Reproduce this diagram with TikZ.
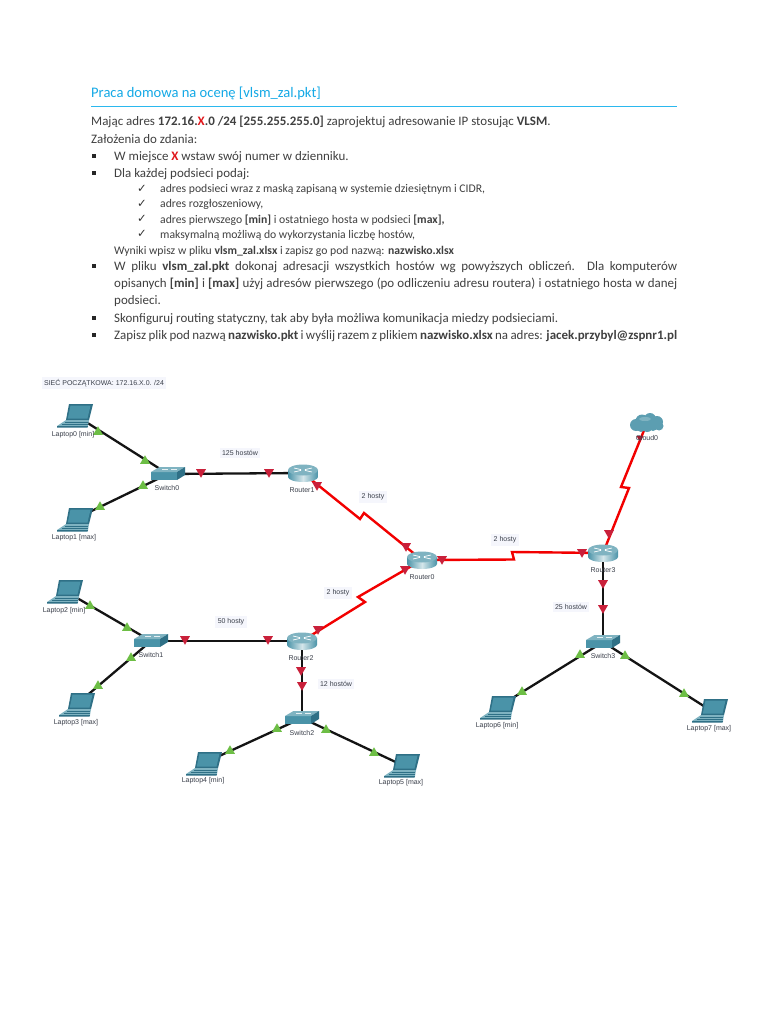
\documentclass[tikz,border=0pt]{standalone}
\usepackage{fontspec}
\setmainfont{Carlito}
\newfontfamily\netfont{Liberation Sans}
\newfontfamily\symfont{DejaVu Sans}
\usetikzlibrary{shapes.geometric}
\definecolor{bodygray}{HTML}{404040}
\definecolor{titleblue}{HTML}{14A9E6}
\definecolor{rulecyan}{HTML}{2BB8EE}
\definecolor{marker}{HTML}{E0161B}
\definecolor{tealdark}{HTML}{2F7086}
\definecolor{tealmid}{HTML}{4A93A8}
\definecolor{teallight}{HTML}{7FB3C1}
\definecolor{tealpale}{HTML}{D4E6EA}
\definecolor{greentri}{HTML}{6DBE45}
\definecolor{redtri}{HTML}{C9203A}
\definecolor{labelbg}{HTML}{F5F6FC}
\definecolor{nettext}{HTML}{3A3F4A}
\newcommand{\bodytxt}{\fontsize{12.95}{17}\selectfont}
\newcommand{\smalltxt}{\fontsize{11.7}{15}\selectfont}
\newcommand{\ckm}{\symfont\fontsize{11.5}{12}\selectfont ✓}
\tikzset{
  line/.style={anchor=base west,inner sep=0pt,text=bodygray,font=\bodytxt},
  subline/.style={anchor=base west,inner sep=0pt,text=bodygray,font=\smalltxt},
  bulletmark/.style={fill=black!85,inner sep=0pt,minimum size=4pt},
  checkmark/.style={inner sep=0pt,text=black!80},
  anchorpt/.style={inner sep=0pt,minimum size=0pt},
  eth/.style={draw=black!92,line width=2.3pt},
  serial/.style={draw=red!95!black,line width=2.4pt,line join=miter},
  gtri/.style={regular polygon,regular polygon sides=3,fill=greentri,inner sep=0pt,minimum size=11.5pt},
  rtri/.style={regular polygon,regular polygon sides=3,shape border rotate=180,fill=redtri,inner sep=0pt,minimum size=11.5pt},
  devlabel/.style={inner sep=0pt,text=nettext,font=\netfont\fontsize{7}{8}\selectfont},
  linklabel/.style={fill=labelbg,inner sep=2.5pt,text=nettext,font=\netfont\fontsize{7}{8}\selectfont},
  laptopicon/.pic={
    \fill[tealdark] (-6,-11) -- (18,-11) -- (14,5) -- (-9,5) -- cycle;
    \fill[tealmid] (-4.5,-9.5) -- (15.5,-9.5) -- (12.5,3.5) -- (-7.2,3.5) -- cycle;
    \fill[teallight] (-9,5) -- (14,5) -- (13,11) -- (-18,11) -- cycle;
    \draw[tealdark,line width=.5pt] (-10,7) -- (13,7) (-13,9) -- (13,9);
    \fill[tealdark] (-18,11) -- (13,11) -- (12.5,12.5) -- (-18,12.5) -- cycle;
  },
  switchicon/.pic={
    \fill[tealmid] (-17,-2) -- (9,-2) -- (9,6) -- (-17,6) -- cycle;
    \fill[teallight] (-8.5,-7) -- (17,-7) -- (9,-2) -- (-17,-2) -- cycle;
    \fill[tealdark] (17,-7) -- (17,1) -- (9,6) -- (9,-2) -- cycle;
    \draw[white!80!teallight,line width=.4pt] (-6,-4.5) -- (0,-4.5) (3,-4.5) -- (9,-4.5);
  },
  routericon/.pic={
    \shade[left color=tealmid,right color=tealmid,middle color=tealpale]
      (-15,-3) -- (-15,4) arc[start angle=180,end angle=360,x radius=15pt,y radius=5pt] -- (15,-3) -- cycle;
    \fill[teallight] (0,-3) ellipse[x radius=15pt,y radius=5.5pt];
    \draw[white,line width=.7pt] (-9,-5) -- (-2,-3.4) (2,-2.6) -- (9,-1) (9,-5) -- (2,-3.4) (-2,-2.6) -- (-9,-1);
  },
  cloudicon/.pic={
    \fill[tealmid!90!white] (-11,2) circle[radius=6pt] (-5,-2) circle[radius=6.5pt] (3,-4) circle[radius=6pt]
      (10,-1) circle[radius=6pt] (12,3) circle[radius=4.5pt] (0,3) circle[radius=6pt] (6,3) circle[radius=5pt] (-6,4) circle[radius=5pt];
    \fill[teallight] (-2,-4) ellipse[x radius=6pt,y radius=2pt];
  },
}
\begin{document}
\begin{tikzpicture}[x=1pt,y=-1pt]
\useasboundingbox[fill=white] (0,0) rectangle (768,1024);

% document text
\node[anchor=base west,inner sep=0pt,text=titleblue,font=\fontsize{14.55}{18}\selectfont] (title) at (91,98) {Praca domowa na ocenę [vlsm\_zal.pkt]};
\coordinate (ruleL) at (91,106.5);
\coordinate (ruleR) at (677,106.5);
\draw[rulecyan,line width=1.2pt] (ruleL) -- (ruleR);

\node[line] (l1) at (91,126) {Mając adres \textbf{172.16.\textcolor{marker}{X}.0 /24 [255.255.255.0]} zaprojektuj adresowanie IP stosując \textbf{VLSM}.};
\node[line] (l2) at (91,143.5) {Założenia do zdania:};
\node[bulletmark] (b1) at (93.5,156) {};
\node[line] (l3) at (114,160.5) {W miejsce \textcolor{marker}{\textbf{X}} wstaw swój numer w dzienniku.};
\node[bulletmark] (b2) at (93.5,173) {};
\node[line] (l4) at (114,177.5) {Dla każdej podsieci podaj:};
\node[checkmark] (c1) at (142,188.5) {\ckm};
\node[subline] (s1) at (160,192.5) {adres podsieci wraz z maską zapisaną w systemie dziesiętnym i CIDR,};
\node[checkmark] (c2) at (142,203.5) {\ckm};
\node[subline] (s2) at (160,208) {adres rozgłoszeniowy,};
\node[checkmark] (c3) at (142,218.5) {\ckm};
\node[subline] (s3) at (160,223) {adres pierwszego \textbf{[min]} i ostatniego hosta w podsieci \textbf{[max],}};
\node[checkmark] (c4) at (142,233.5) {\ckm};
\node[subline] (s4) at (160,238) {maksymalną możliwą do wykorzystania liczbę hostów,};
\node[subline] (s5) at (114,254.5) {Wyniki wpisz w pliku \textbf{vlsm\_zal.xlsx} i zapisz go pod nazwą: \textbf{nazwisko.xlsx}};
\node[bulletmark] (b3) at (93.5,265.5) {};
\node[line] (l5) at (114,270.5) {\makebox[563pt][s]{W pliku \textbf{vlsm\_zal.pkt} dokonaj adresacji wszystkich hostów wg powyższych obliczeń. Dla komputerów}};
\node[line] (l6) at (114,287.5) {\makebox[563pt][s]{opisanych \textbf{[min]} i \textbf{[max]} użyj adresów pierwszego (po odliczeniu adresu routera) i ostatniego hosta w danej}};
\node[line] (l7) at (114,304.5) {podsieci.};
\node[bulletmark] (b4) at (93.5,317.5) {};
\node[line] (l8) at (114,322) {Skonfiguruj routing statyczny, tak aby była możliwa komunikacja miedzy podsieciami.};
\node[bulletmark] (b5) at (93.5,334.5) {};
\node[line] (l9) at (114,339.5) {\makebox[563pt][s]{Zapisz plik pod nazwą \textbf{nazwisko.pkt} i wyślij razem z plikiem \textbf{nazwisko.xlsx} na adres: \textbf{jacek.przybyl@zspnr1.pl}}};

% device positions
\node[anchorpt] (laptop0) at (75,415) {};
\node[anchorpt] (laptop1) at (75,519) {};
\node[anchorpt] (laptop2) at (65,591) {};
\node[anchorpt] (laptop3) at (77,704) {};
\node[anchorpt] (laptop4) at (204,763) {};
\node[anchorpt] (laptop5) at (402,765) {};
\node[anchorpt] (laptop6) at (498,707) {};
\node[anchorpt] (laptop7) at (710,710) {};
\node[anchorpt] (switch0) at (168,474) {};
\node[anchorpt] (switch1) at (151,641) {};
\node[anchorpt] (switch2) at (302,718) {};
\node[anchorpt] (switch3) at (603,642) {};
\node[anchorpt] (router0) at (422,560) {};
\node[anchorpt] (router1) at (303,473) {};
\node[anchorpt] (router2) at (302,641) {};
\node[anchorpt] (router3) at (603,553) {};
\node[anchorpt] (cloud0) at (647,423) {};

% zigzag points
\coordinate (za1) at (360,519);
\coordinate (za2) at (364,513);
\coordinate (zb1) at (365,602);
\coordinate (zb2) at (358,597);
\coordinate (zc1) at (514,559.5);
\coordinate (zc2) at (512,552);
\coordinate (zd1) at (629,488);
\coordinate (zd2) at (621,487);

% connectors
\draw[eth] (laptop0) -- (switch0);
\draw[eth] (laptop1) -- (switch0);
\draw[eth] (switch0) -- (router1);
\draw[eth] (laptop2) -- (switch1);
\draw[eth] (laptop3) -- (switch1);
\draw[eth] (switch1) -- (router2);
\draw[eth] (router2) -- (switch2);
\draw[eth] (laptop4) -- (switch2);
\draw[eth] (laptop5) -- (switch2);
\draw[eth,line width=2.8pt] (router3) -- (switch3);
\draw[eth] (laptop6) -- (switch3);
\draw[eth] (laptop7) -- (switch3);
\draw[serial] (router1) -- (za1) -- (za2) -- (router0);
\draw[serial] (router2) -- (zb1) -- (zb2) -- (router0);
\draw[serial] (router0) -- (zc1) -- (zc2) -- (router3);
\draw[serial] (router3) -- (zd1) -- (zd2) -- (cloud0);

% device icons
\foreach \n in {laptop0,laptop1,laptop2,laptop3,laptop4,laptop5,laptop6,laptop7}{\pic at (\n) {laptopicon};}
\foreach \n in {switch0,switch1,switch2,switch3}{\pic at (\n) {switchicon};}
\foreach \n in {router0,router1,router2,router3}{\pic at (\n) {routericon};}
\pic at (cloud0) {cloudicon};

% link-state triangles
\foreach \x/\y in {98/432,145/461,100/507,143/486,90/606,127/628,98/686,131/658,277/729,230/751,326/730,374/753,580/655,522/692,625/656,684/694}
  {\node[gtri] at (\x,\y) {};}
\foreach \x/\y in {201/472,269/472,317/485,406/546,405/569,318/629,442/559,582/552,609/533,603/583,603/608,185/639,268/639,301/670,302/685}
  {\node[rtri] at (\x,\y) {};}
\node[rtri,minimum size=8pt,fill=redtri!80!black] at (640,438) {};

% labels
\node[linklabel] (net) at (104,383) {SIEĆ POCZĄTKOWA: 172.16.X.0. /24};
\node[devlabel] at (73,435) {Laptop0 [min]};
\node[devlabel] at (74,538) {Laptop1 [max]};
\node[devlabel] at (64,611) {Laptop2 [min]};
\node[devlabel] at (76,723) {Laptop3 [max]};
\node[devlabel] at (203,781) {Laptop4 [min]};
\node[devlabel] at (401,783) {Laptop5 [max]};
\node[devlabel] at (497,726) {Laptop6 [min]};
\node[devlabel] at (709,729) {Laptop7 [max]};
\node[devlabel] at (167,488) {Switch0};
\node[devlabel] at (151,655) {Switch1};
\node[devlabel] at (302,733) {Switch2};
\node[devlabel] at (603,656) {Switch3};
\node[devlabel] at (422,577) {Router0};
\node[devlabel] at (302,490) {Router1};
\node[devlabel] at (301,658) {Router2};
\node[devlabel] at (603,570) {Router3};
\node[devlabel] at (647,438) {Cloud0};
\node[linklabel] at (240,453) {125 hostów};
\node[linklabel] at (373,497) {2 hosty};
\node[linklabel] at (231,622) {50 hosty};
\node[linklabel] at (338,593) {2 hosty};
\node[linklabel] at (336,684) {12 hostów};
\node[linklabel] at (505,540) {2 hosty};
\node[linklabel] at (571,607) {25 hostów};
\end{tikzpicture}
\end{document}
